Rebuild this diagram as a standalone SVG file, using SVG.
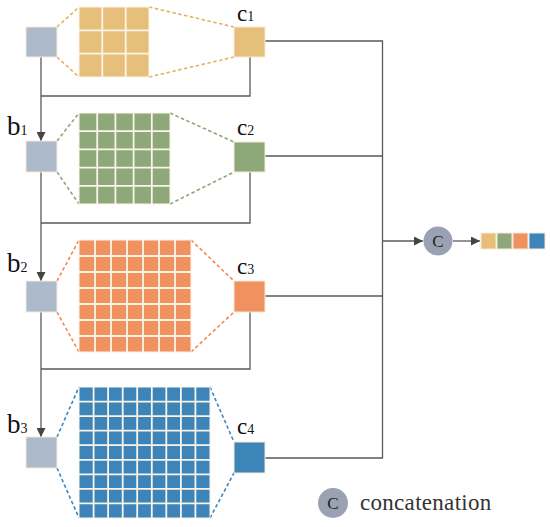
<svg xmlns="http://www.w3.org/2000/svg" width="550" height="527" viewBox="0 0 550 527">
<style>
.bx{fill:#adbacb;stroke:#f6ead7;stroke-width:1}
.ln{fill:none;stroke:#5a5a5a;stroke-width:1.3}
.gl{stroke:#fbf4e8;stroke-width:1.8}
.lab{font-family:"Liberation Serif",serif;font-size:27px;fill:#111}
.lc{font-family:"Liberation Serif",serif;font-size:23px;fill:#111}
.sub{font-size:14px}
.dy{stroke:#e6b061;stroke-width:1.6;stroke-dasharray:3.5 2.5;fill:none}
.dg{stroke:#8ca679;stroke-width:1.6;stroke-dasharray:3.5 2.5;fill:none}
.do{stroke:#ef8a55;stroke-width:1.6;stroke-dasharray:3.5 2.5;fill:none}
.db{stroke:#3b85c0;stroke-width:1.6;stroke-dasharray:3.5 2.5;fill:none}
.cc{fill:#9aa1b2}
.ct{font-family:"Liberation Serif",serif;font-size:17px;fill:#222;text-anchor:middle}
</style>
<defs>
<marker id="ar" viewBox="0 0 10 10" refX="10" refY="5" markerWidth="9" markerHeight="9" markerUnits="userSpaceOnUse" orient="auto">
<path d="M0,0L10,5L0,10z" fill="#444"/>
</marker>
</defs>
<g id="connectors">
<path class="ln" d="M41,57V141" marker-end="url(#ar)"/>
<path class="ln" d="M250,57V96H41"/>
<path class="ln" d="M41,172V281" marker-end="url(#ar)"/>
<path class="ln" d="M250,172V223H41"/>
<path class="ln" d="M41,312V437" marker-end="url(#ar)"/>
<path class="ln" d="M250,312V369H41"/>
<path class="ln" d="M265,41H382.5V458H265"/>
<path class="ln" d="M265,156H382.5M265,296H382.5"/>
<path class="ln" d="M382.5,241H423" marker-end="url(#ar)"/>
<path class="ln" d="M453,241H480" marker-end="url(#ar)"/>
<path class="dy" d="M57,27L79,7M57,57L79,77M149,7L234,27M149,77L234,57"/>
<path class="dg" d="M57,141L79,113M57,172L79,204M170,113L234,142M170,204L234,172"/>
<path class="do" d="M57,281L79,240M57,312L79,352M191,240L234,281M191,352L234,312"/>
<path class="db" d="M57,437L79,387M57,468L79,518M210,387L234,442M210,518L234,473"/>
</g>
<g id="b0"><rect class="bx" x="26" y="27" width="31" height="30"/></g>
<g id="b1"><rect class="bx" x="26" y="141" width="31" height="31"/><text class="lab" x="7" y="135">b<tspan class="sub">1</tspan></text></g>
<g id="b2"><rect class="bx" x="26" y="281" width="31" height="31"/><text class="lab" x="7" y="272">b<tspan class="sub">2</tspan></text></g>
<g id="b3"><rect class="bx" x="26" y="437" width="31" height="31"/><text class="lab" x="7" y="433">b<tspan class="sub">3</tspan></text></g>
<g id="grid1">
<rect x="79" y="7" width="70" height="70" fill="#e6c07b" stroke="#fbf4e8" stroke-width="1"/>
<path class="gl" d="M102.3,7V77M125.7,7V77M79,30.3H149M79,53.7H149"/>
</g>
<g id="grid2">
<rect x="79" y="113" width="91" height="91" fill="#8fa87a" stroke="#fbf4e8" stroke-width="1"/>
<path class="gl" d="M97.2,113V204M115.4,113V204M133.6,113V204M151.8,113V204M79,131.2H170M79,149.4H170M79,167.6H170M79,185.8H170"/>
</g>
<g id="grid3">
<rect x="79" y="240" width="112" height="112" fill="#f0915f" stroke="#fbf4e8" stroke-width="1"/>
<path class="gl" d="M95,240V352M111,240V352M127,240V352M143,240V352M159,240V352M175,240V352M79,256H191M79,272H191M79,288H191M79,304H191M79,320H191M79,336H191"/>
</g>
<g id="grid4">
<rect x="79" y="387" width="131" height="131" fill="#3d84b8" stroke="#fbf4e8" stroke-width="1"/>
<path class="gl" d="M93.6,387V518M108.1,387V518M122.7,387V518M137.2,387V518M151.8,387V518M166.3,387V518M180.9,387V518M195.4,387V518M79,401.6H210M79,416.1H210M79,430.7H210M79,445.2H210M79,459.8H210M79,474.3H210M79,488.9H210M79,503.4H210"/>
</g>
<g id="c1"><rect x="234" y="27" width="31" height="30" fill="#e6c07b" stroke="#f6ead7" stroke-width="1"/><text class="lc" x="237" y="21">c<tspan class="sub">1</tspan></text></g>
<g id="c2"><rect x="234" y="142" width="31" height="30" fill="#8fa87a" stroke="#f6ead7" stroke-width="1"/><text class="lc" x="237" y="135">c<tspan class="sub">2</tspan></text></g>
<g id="c3"><rect x="234" y="281" width="31" height="31" fill="#f0915f" stroke="#f6ead7" stroke-width="1"/><text class="lc" x="237" y="274">c<tspan class="sub">3</tspan></text></g>
<g id="c4"><rect x="234" y="442" width="31" height="31" fill="#3d84b8" stroke="#f6ead7" stroke-width="1"/><text class="lc" x="237" y="434">c<tspan class="sub">4</tspan></text></g>
<g id="concat"><circle class="cc" cx="438" cy="241" r="14.5"/><text class="ct" x="438" y="247">C</text></g>
<g id="output">
<rect x="481" y="233" width="15" height="16" fill="#e6c07b" stroke="#f6ead7" stroke-width="1"/>
<rect x="497" y="233" width="15" height="16" fill="#8fa87a" stroke="#f6ead7" stroke-width="1"/>
<rect x="513" y="233" width="15" height="16" fill="#f0915f" stroke="#f6ead7" stroke-width="1"/>
<rect x="529" y="233" width="16" height="16" fill="#3d84b8" stroke="#f6ead7" stroke-width="1"/>
</g>
<g id="legend">
<circle class="cc" cx="333" cy="503" r="15"/><text class="ct" x="333" y="509">C</text>
<text x="360" y="510" font-family="Liberation Serif,serif" font-size="23" letter-spacing="0.3" fill="#333">concatenation</text>
</g>
</svg>
